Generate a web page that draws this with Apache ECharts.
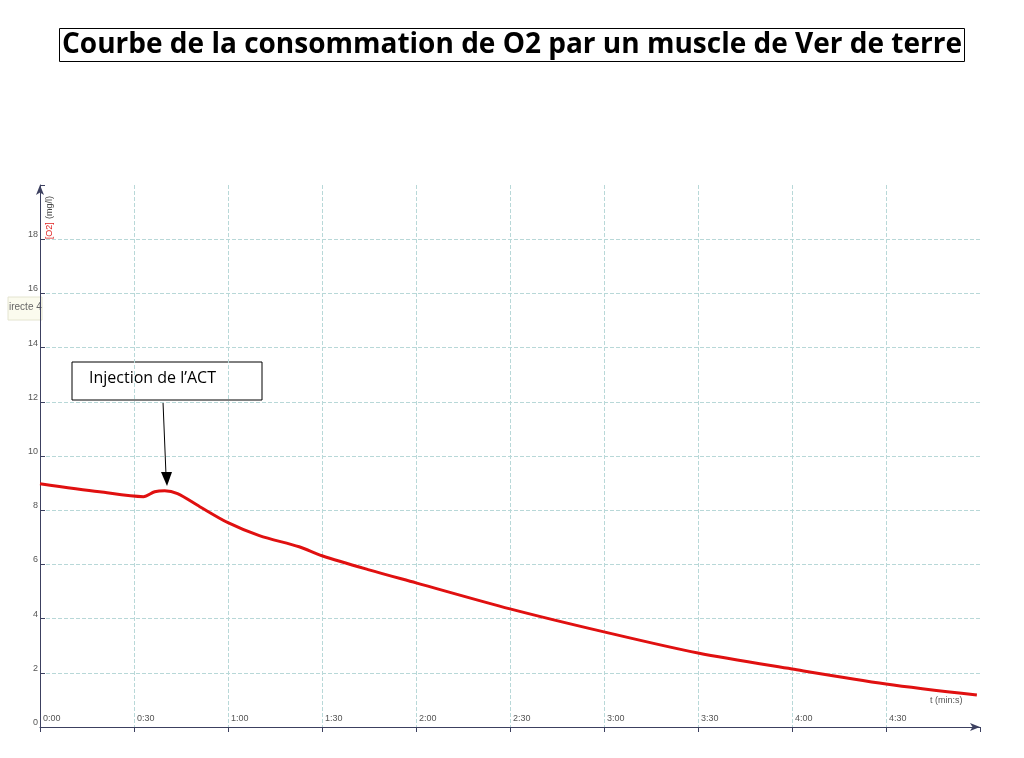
<!DOCTYPE html>
<html lang="fr">
<head>
<meta charset="UTF-8">
<title>Consommation O2</title>
<script src="https://cdn.jsdelivr.net/npm/echarts@6/dist/echarts.min.js"></script>
<style>body{margin:0;background:#fff}</style>
</head>
<body>
<div id="main" style="width:1024px;height:758px;"></div>
<script type="text/javascript">
// temps en secondes, [O2] en mg/l
var temps = [0, 19, 33, 36.6, 39.8, 43.9, 51, 60, 70, 82.7, 90, 105, 120, 150, 180, 210, 240, 270, 299];
var o2 = [8.98, 8.68, 8.5, 8.68, 8.72, 8.61, 8.13, 7.54, 7.06, 6.65, 6.32, 5.8, 5.32, 4.36, 3.51, 2.73, 2.14, 1.59, 1.18];
var yTicks = [0, 2, 4, 6, 8, 10, 12, 14, 16, 18];

var data = [];
for (var i = 0; i < temps.length; i++) data.push([temps[i], o2[i]]);

function mmss(v) {
    var m = Math.floor(v / 60), s = v % 60;
    return m + ':' + (s < 10 ? '0' : '') + s;
}

var myChart = echarts.init(document.getElementById('main'));
var option = {
    animation: false,
    grid: {left: 40, right: 44, top: 185, bottom: 31},
    title: {
        text: 'Courbe de la consommation de O2 par un muscle de Ver de terre',
        left: 'center', top: 28,
        textStyle: {fontFamily: 'Open Sans', fontSize: 28, fontWeight: 'bold', color: '#000'},
        borderColor: '#000', borderWidth: 1, padding: [3, 3]
    },
    xAxis: {
        type: 'value', min: 0, max: 300, interval: 30,
        axisLine: {lineStyle: {color: '#3c4060'}, symbol: ['none', 'arrow'], symbolSize: [6, 10]},
        axisTick: {length: 5, lineStyle: {color: '#3c4060'}},
        axisLabel: {
            inside: true, align: 'left', verticalAlign: 'bottom', margin: 4, padding: [0, 0, 0, 3],
            fontSize: 9, color: '#555', formatter: function (v) { return v >= 300 ? '' : mmss(v); }
        },
        splitLine: {show: true, showMaxLine: false, lineStyle: {color: '#b8d8d8', type: 'dashed'}},
        name: 't (min:s)', nameLocation: 'end', nameGap: -50,
        nameTextStyle: {fontSize: 9, color: '#555', verticalAlign: 'bottom', padding: [0, 0, 22, 0]}
    },
    yAxis: {
        type: 'value', min: 0, max: 20, interval: 2,
        axisLine: {lineStyle: {color: '#3c4060'}, symbol: ['none', 'arrow'], symbolSize: [6, 10]},
        axisTick: {inside: true, length: 5, lineStyle: {color: '#3c4060'}},
        axisLabel: {
            fontSize: 9, color: '#555', margin: 2, verticalAlign: 'bottom',
            formatter: function (v) { return yTicks.indexOf(v) >= 0 ? v : ''; }
        },
        splitLine: {show: true, showMaxLine: false, lineStyle: {color: '#b8d8d8', type: 'dashed'}},
        name: ''
    },
    graphic: [
        {type: 'text', left: 44, top: 196, rotation: Math.PI / 2,
         style: {rich: {r: {fill: '#e02020', fontSize: 9}, k: {fill: '#444', fontSize: 9}},
                 text: '{r|[O2]} {k|(mg/l)}'}},
        {type: 'rect', shape: {x: 8, y: 297, width: 34, height: 23},
         style: {fill: '#fbfbee', stroke: '#e4e4d0'}},
        {type: 'text', left: 9, top: 302, style: {text: 'irecte 4', fontSize: 10, fill: '#666'}},
        {type: 'rect', shape: {x: 72, y: 362, width: 190, height: 38},
         style: {fill: '#fff', stroke: '#000', lineWidth: 1}},
        {type: 'text', left: 89, top: 370,
         style: {text: 'Injection de l\u2019ACT', fontSize: 16, fontFamily: 'Open Sans', fill: '#000'}},
        {type: 'line', shape: {x1: 163, y1: 402, x2: 166, y2: 475}, style: {stroke: '#000', lineWidth: 1}},
        {type: 'polygon', shape: {points: [[161, 472], [172, 472], [167, 486]]}, style: {fill: '#000'}}
    ],
    series: [{
        type: 'line', data: data, smooth: 0.3, showSymbol: false,
        lineStyle: {color: '#e01010', width: 3}
    }]
};
myChart.setOption(option);
</script>
</body>
</html>
